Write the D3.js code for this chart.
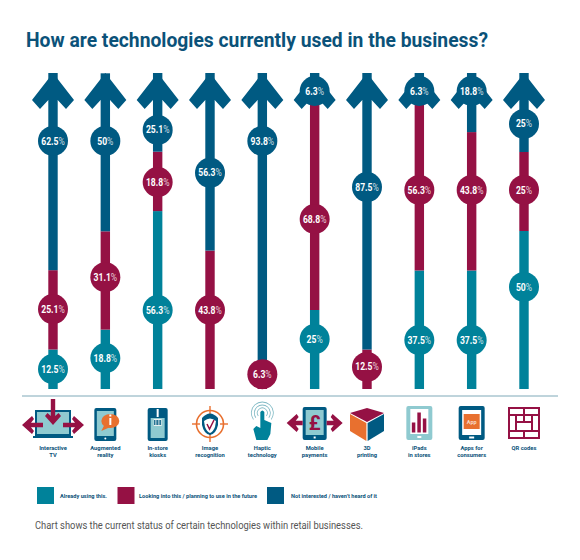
<!DOCTYPE html>
<html>
<head>
<meta charset="utf-8">
<script src="https://cdn.jsdelivr.net/npm/d3@7"></script>
<style>
  html, body { margin: 0; padding: 0; background: #fff; }
  svg { display: block; }
  text { font-family: Roboto, sans-serif; }
</style>
</head>
<body>
<svg width="580" height="560"></svg>
<script>
const categories = [
  ['Interactive', 'TV'], ['Augmented', 'reality'], ['In-store', 'kiosks'], ['Image', 'recognition'], ['Haptic', 'technology'],
  ['Mobile', 'payments'], ['3D', 'printing'], ['iPads', 'in stores'], ['Apps for', 'consumers'], ['QR codes']
]
const statusNames = ['Already using this.', 'Looking into this / planning to use in the future', 'Not interested / haven\u2019t heard of it']

const alreadyUsing = [12.5, 18.8, 56.3, 0, 0, 25, 0, 37.5, 37.5, 50]
const lookingInto = [25.1, 31.1, 18.8, 43.8, 6.3, 68.8, 12.5, 56.3, 43.8, 25]
const notInterested = [62.5, 50, 25.1, 56.3, 93.8, 6.3, 87.5, 6.3, 18.8, 25]

// where each badge sits on the 0-100 stem, the original does not centre them
const alreadyBadgeAt = [6.3, 9.8, 25, 0, 0, 15.8, 0, 15.5, 15.5, 32.3]
const lookingBadgeAt = [25.3, 35.4, 65.5, 25, 4.7, 53.8, 7, 63, 63, 63]
const notBadgeAt = [78.5, 78.5, 82, 68.4, 78.5, 94.3, 63.9, 94.3, 94.3, 83.9]

const teal = '#00829a'
const maroon = '#951144'
const blue = '#005a82'
const orange = '#e8702f'
const pale = '#8fcad0'
const colors = [teal, maroon, blue]

const svg = d3.select('svg')

const xScale = d3.scalePoint().domain(d3.range(10)).range([53, 524])
const yScale = d3.scaleLinear().domain([0, 100]).range([389, 73])

svg.append('text').text('How are technologies currently used in the business?')
  .attr('x', 26).attr('y', 47)
  .attr('font-size', 20).attr('font-weight', 700).attr('fill', '#0b5279')
  .attr('textLength', 462).attr('lengthAdjust', 'spacingAndGlyphs')

svg.append('line').attr('x1', 22).attr('x2', 558).attr('y1', 396).attr('y2', 396)
  .attr('stroke', '#7fa9b8').attr('stroke-width', 1)

const head = 'M0,0 L21,27 L13,36 L4.7,27 L-4.7,27 L-13,36 L-21,27 Z'

categories.forEach((cat, i) => {
  const g = svg.append('g').attr('transform', `translate(${xScale(i)},0)`)
  const vals = [alreadyUsing[i], lookingInto[i], notInterested[i]]
  const at = [alreadyBadgeAt[i], lookingBadgeAt[i], notBadgeAt[i]]
  let base = 0
  vals.forEach((v, k) => {
    if (!v) return
    g.append('rect')
      .attr('x', -4.7).attr('width', 9.4)
      .attr('y', yScale(Math.min(base + v, 100)))
      .attr('height', yScale(base) - yScale(Math.min(base + v, 100)))
      .attr('fill', colors[k])
    base += v
  })
  g.append('path').attr('d', head).attr('transform', `translate(0,${yScale(100)})`).attr('fill', blue)
  vals.forEach((v, k) => {
    if (!v) return
    const cy = yScale(at[k])
    g.append('circle').attr('cy', cy).attr('r', 15).attr('fill', colors[k])
    const t = g.append('text').attr('text-anchor', 'middle')
      .attr('transform', `translate(0,${cy + 3.6}) scale(.86,1)`)
      .attr('font-size', 10).attr('font-weight', 700).attr('fill', '#fff')
    t.append('tspan').text(v)
    t.append('tspan').text('%').attr('fill-opacity', 0.8).attr('font-weight', 400)
  })
  cat.forEach((s, n) => {
    svg.append('text').attr('text-anchor', 'middle').attr('font-size', 5.8)
      .attr('font-weight', 700).attr('fill', '#0b5279')
      .attr('x', xScale(i)).attr('y', 450 + n * 7.4).text(s)
  })
})

// icons
function icon(i) { return svg.append('g').attr('transform', `translate(${xScale(i)},0)`) }
function rect(g, x, y, w, h, fill, rx) {
  return g.append('rect').attr('x', x).attr('y', y).attr('width', w).attr('height', h).attr('fill', fill).attr('rx', rx || 0)
}
function arrowPath(g, d) { return g.append('path').attr('d', d).attr('fill', maroon) }
const sideArrows = (w, y, inner) =>
  `M${-w},${y} L${-w + 10},${y - 9} L${-w + 12},${y - 6} L${-w + 9},${y - 2.2} L${-inner},${y - 2.2} L${-inner},${y + 2.2} L${-w + 9},${y + 2.2} L${-w + 12},${y + 6} L${-w + 10},${y + 9} Z ` +
  `M${w},${y} L${w - 10},${y - 9} L${w - 12},${y - 6} L${w - 9},${y - 2.2} L${inner},${y - 2.2} L${inner},${y + 2.2} L${w - 9},${y + 2.2} L${w - 12},${y + 6} L${w - 10},${y + 9} Z`

// TV
let ic = icon(0)
rect(ic, -17, 411, 34, 24, pale).attr('stroke', blue).attr('stroke-width', 2)
rect(ic, -20, 436, 40, 2, blue)
arrowPath(ic, sideArrows(31, 425, 10))
arrowPath(ic, 'M-2.2,399 L2.2,399 L2.2,416 L5.5,413 L8,416 L0,425 L-8,416 L-5.5,413 L-2.2,416 Z')

// tablet with info bubble
ic = icon(1)
rect(ic, -11, 408, 22, 33, blue, 2)
rect(ic, -8.5, 411, 17, 25, pale)
ic.append('circle').attr('cx', 0).attr('cy', 438.5).attr('r', 1).attr('fill', '#fff')
ic.append('ellipse').attr('cx', 5).attr('cy', 421).attr('rx', 9).attr('ry', 7).attr('fill', orange)
ic.append('path').attr('d', 'M-1,425 L-4,431 L5,427 Z').attr('fill', orange)
rect(ic, 4, 418, 2, 7, '#fff')
rect(ic, 4, 414.5, 2, 2, '#fff')

// kiosk
ic = icon(2)
rect(ic, -10, 408, 20, 33, blue, 2)
rect(ic, -7, 418, 14, 20, pale)
rect(ic, -1, 409, 2, 8, '#fff')
rect(ic, -4, 419, 8, 7, '#e8f0f0')
d3.range(5).forEach(n => rect(ic, -3.5 + n * 1.5, 420, 0.9, 5, blue))

// image recognition
ic = icon(3)
ic.append('circle').attr('cy', 424).attr('r', 13.5).attr('fill', 'none').attr('stroke', orange).attr('stroke-width', 1.6)
rect(ic, -0.7, 406, 1.4, 8, orange)
rect(ic, -0.7, 434, 1.4, 8, orange)
rect(ic, -18, 423.3, 8, 1.4, orange)
rect(ic, 10, 423.3, 8, 1.4, orange)
ic.append('path').attr('d', 'M-8,418 Q0,409 8,418 L8,425 Q6,434 0,435 Q-6,434 -8,425 Z').attr('fill', blue)
ic.append('path').attr('d', 'M-6,421 Q0,416 6,421 L5,427 Q3,432 0,433 Q-3,432 -5,427 Z').attr('fill', '#fff')
ic.append('path').attr('d', 'M-3,424 L-0.5,429 L4,420').attr('fill', 'none').attr('stroke', maroon).attr('stroke-width', 1.5)

// haptic finger
ic = icon(4)
;[5, 8, 11].forEach(r => ic.append('path')
  .attr('d', d3.arc()({ innerRadius: r - 0.4, outerRadius: r + 0.4, startAngle: -2.2, endAngle: 2.2 }))
  .attr('transform', 'translate(0,413)').attr('fill', '#7fb9c4'))
ic.append('path').attr('d', 'M-2,412 Q0,409 2,412 L2,420 L9,423 L8,434 L5,440 L-6,440 L-9,429 L-6,426 L-2,428 Z').attr('fill', teal)

// mobile payment
ic = icon(5)
rect(ic, -12, 407, 24, 33, blue, 2)
rect(ic, -9, 410, 18, 25, pale)
rect(ic, -1, 436.5, 2, 2, '#fff')
arrowPath(ic, sideArrows(28, 423, 12))
ic.append('text').text('\u00a3').attr('y', 430).attr('text-anchor', 'middle')
  .attr('font-size', 20).attr('font-weight', 700).attr('fill', maroon)

// 3D cube
ic = icon(6)
ic.append('path').attr('d', 'M-17,413 L0,408 L17,413 L0,422 Z').attr('fill', maroon)
ic.append('path').attr('d', 'M-17,414 L-0.6,423 L-0.6,441 L-17,431 Z').attr('fill', orange)
ic.append('path').attr('d', 'M17,414 L0.6,423 L0.6,441 L17,431 Z').attr('fill', blue)

// ipad chart
ic = icon(7)
rect(ic, -13, 406, 26, 34, pale, 2)
rect(ic, -9, 409, 18, 25, '#fff')
rect(ic, -2, 436, 4, 2, '#fff')
;[10, 20, 14].forEach((h, n) => rect(ic, -7.5 + n * 5.5, 432.5 - h, 3.5, h, maroon))

// apps
ic = icon(8)
rect(ic, -13, 406, 26, 34, blue, 2)
rect(ic, -9.5, 410, 19, 25, '#fff')
rect(ic, -8, 414, 16, 15, orange)
rect(ic, -2.5, 436.5, 5, 2, '#fff')
ic.append('text').text('App').attr('y', 424).attr('text-anchor', 'middle')
  .attr('font-size', 5.5).attr('font-weight', 700).attr('fill', '#f7d9c4')

// qr maze
ic = icon(9)
rect(ic, -16, 407, 32, 32, maroon)
;[[-14, 409, 13, 5], [1, 409, 13, 5], [-14, 416, 5, 14], [-7, 416, 6, 5], [1, 416, 6, 5], [9, 416, 5, 14], [-7, 423, 14, 7], [-14, 432, 13, 5], [1, 432, 13, 5]]
  .forEach(r => rect(ic, r[0], r[1], r[2], r[3], '#fff'))

// legend
const legendX = [37, 117.5, 267]
const legendTextX = [60, 139, 291]
const legendTextW = [47, 118, 86]
statusNames.forEach((s, i) => {
  rect(svg, legendX[i], 487, 17, 17, colors[i])
  svg.append('text').text(s).attr('x', legendTextX[i]).attr('y', 498)
    .attr('font-size', 6).attr('font-weight', 700).attr('fill', '#0b5279')
    .attr('textLength', legendTextW[i]).attr('lengthAdjust', 'spacingAndGlyphs')
})

svg.append('text').text('Chart shows the current status of certain technologies within retail businesses.')
  .attr('x', 35).attr('y', 529).attr('font-size', 10).attr('fill', '#555')
  .attr('textLength', 328).attr('lengthAdjust', 'spacingAndGlyphs')
</script>
</body>
</html>
